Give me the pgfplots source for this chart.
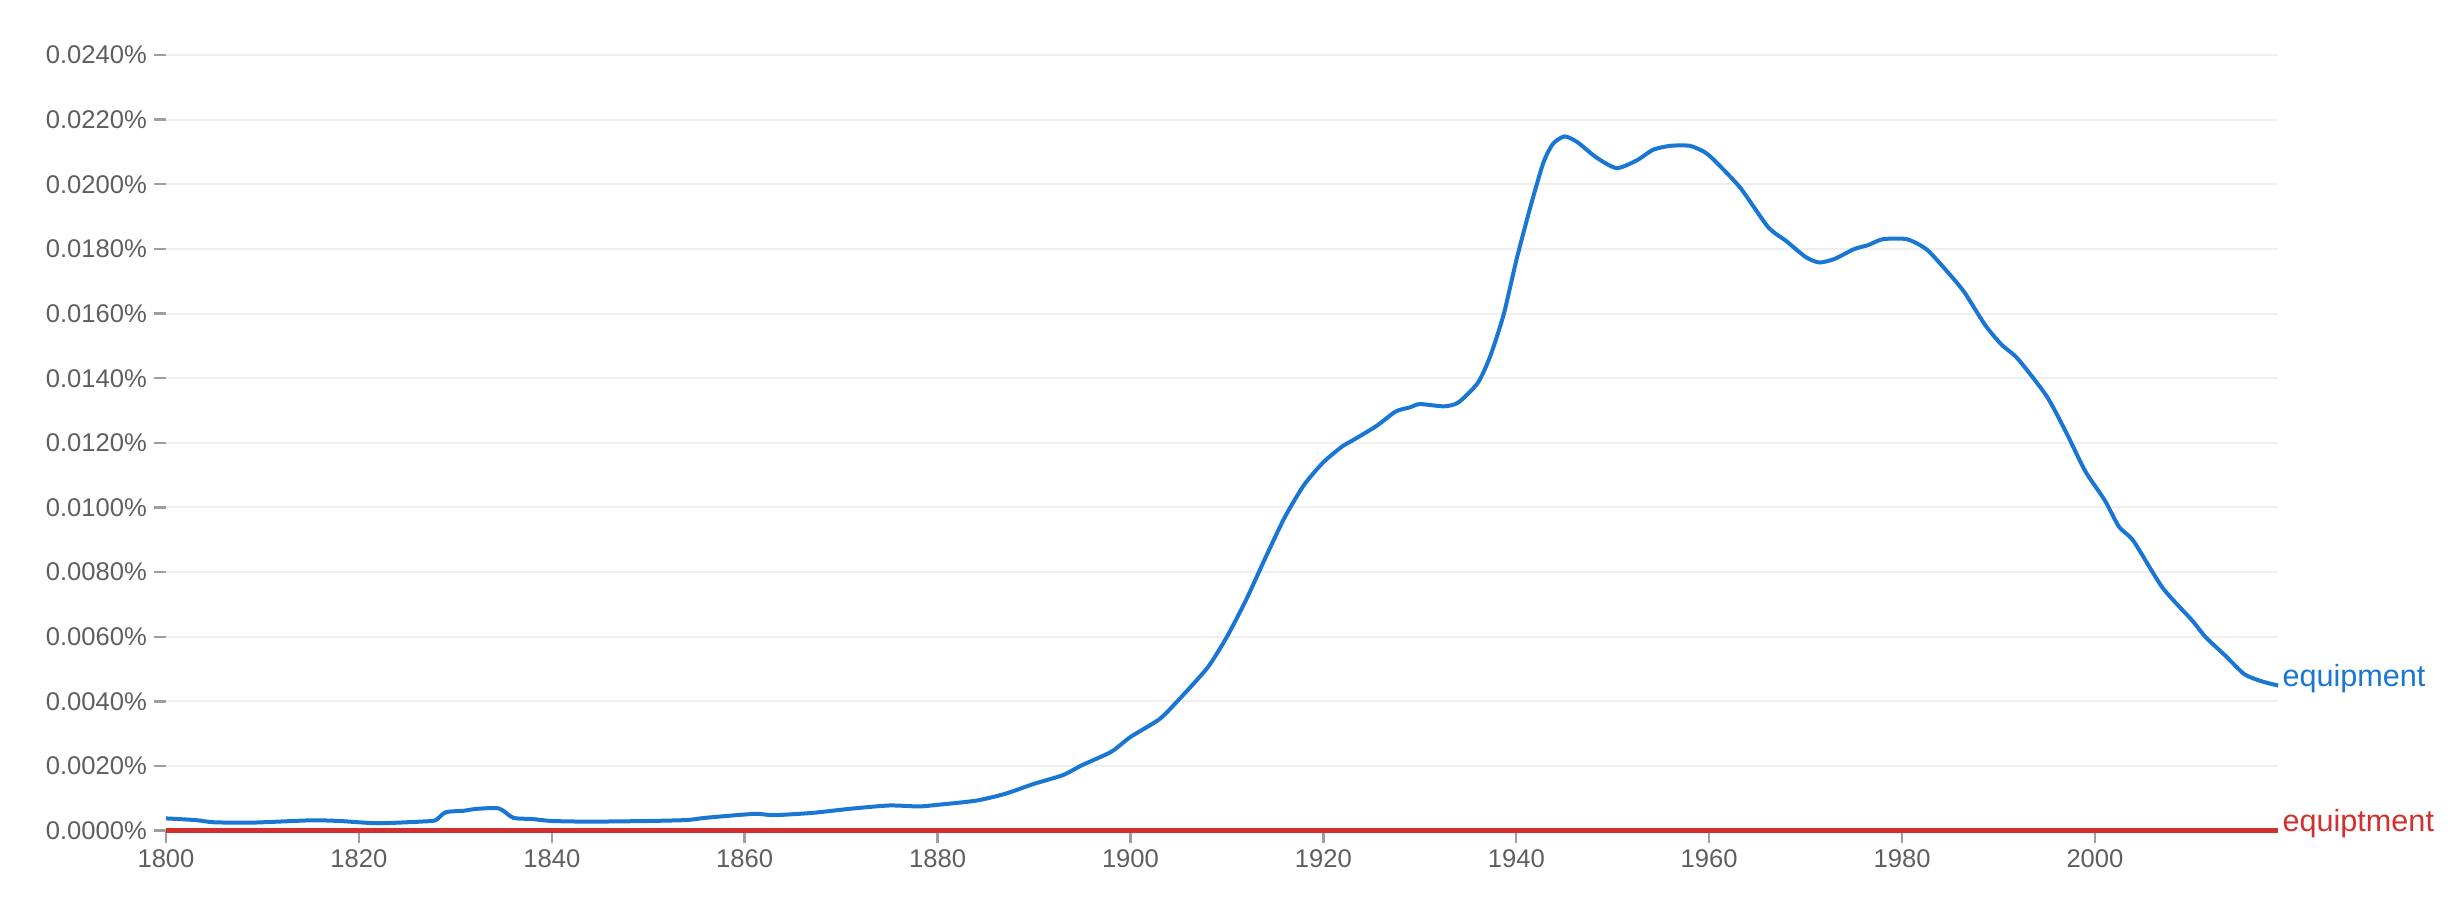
\documentclass[border=0pt]{standalone}
\usepackage{fontspec}
\setmainfont{Liberation Sans}
\usepackage{pgfplots}
\pgfplotsset{compat=1.18}
\definecolor{ngblue}{HTML}{1976D2}
\definecolor{ngred}{HTML}{D32F2F}
\definecolor{ticklab}{HTML}{5F5F5F}
\definecolor{tickc}{HTML}{9E9E9E}
\definecolor{gridc}{HTML}{EFEFEF}
\begin{document}
\begin{tikzpicture}
\begin{axis}[
  scale only axis, width=1056.1pt, height=387.85pt,
  xmin=1800, xmax=2019, ymin=0, ymax=0.024,
  axis line style={draw=none},
  scaled y ticks=false, scaled x ticks=false,
  xtick={1800,1820,1840,1860,1880,1900,1920,1940,1960,1980,2000},
  ytick={0,0.002,0.004,0.006,0.008,0.010,0.012,0.014,0.016,0.018,0.020,0.022,0.024},
  yticklabels={0.0000\%,0.0020\%,0.0040\%,0.0060\%,0.0080\%,0.0100\%,0.0120\%,0.0140\%,0.0160\%,0.0180\%,0.0200\%,0.0220\%,0.0240\%},
  /pgf/number format/1000 sep={},
  /pgf/number format/assume math mode=true,
  tick align=outside, major tick length=6pt,
  xtick pos=bottom, ytick pos=left,
  tick style={tickc, line width=1.2pt},
  ymajorgrids, grid style={gridc, line width=1pt},
  ticklabel style={font=\fontsize{12.8}{15}\selectfont, text=ticklab},
  clip=false,
]
\addplot[ngblue, line width=2pt, smooth, tension=0.4] coordinates {
(1800,0.00038) (1803,0.00033) (1805,0.00026) (1809,0.00025) (1815,0.00032)
(1818,0.00030) (1822,0.00023) (1827,0.00029) (1828,0.00033) (1829,0.00057)
(1831,0.00062) (1832,0.00067) (1834.5,0.00069) (1836,0.00040) (1838,0.00036)
(1840,0.00030) (1844,0.00028) (1850,0.00030) (1854,0.00033) (1856,0.00040)
(1861,0.00052) (1863,0.00048) (1867,0.00055) (1871,0.00068) (1875,0.00078)
(1878,0.00075) (1880,0.00080) (1884,0.00093) (1887,0.00114) (1890,0.00145)
(1893,0.00172) (1895,0.00203) (1898,0.00244) (1900,0.00290) (1903,0.00345)
(1905,0.00405) (1908,0.00505) (1910,0.00600) (1912,0.00715) (1914,0.00845)
(1916,0.00970) (1918,0.01070) (1920,0.01140) (1922,0.01190) (1923,0.01207)
(1925.5,0.01252) (1927.5,0.01297) (1929,0.01310) (1930,0.01320) (1932.5,0.01313)
(1934,0.01325) (1936,0.01385) (1937.3,0.01468) (1938.7,0.01598) (1940,0.01764)
(1941.4,0.01923) (1942.8,0.02066) (1943.8,0.02125) (1945,0.02148) (1946.3,0.02131)
(1948.3,0.02083) (1950.4,0.02050) (1952.5,0.02074) (1954.2,0.02107) (1956,0.02119)
(1958,0.02119) (1959.5,0.02100) (1960.5,0.02075) (1963.2,0.01990) (1966.1,0.01868)
(1968,0.01824) (1970,0.01775) (1971.4,0.01758) (1973,0.01769) (1975,0.01799)
(1976.5,0.01812) (1978,0.01830) (1980.5,0.01830) (1982.6,0.01797) (1985,0.01719)
(1986.5,0.01664) (1988.6,0.01565) (1990.3,0.01504) (1992,0.01460) (1995,0.01344)
(1997,0.01233) (1999,0.01112) (2001,0.01023) (2002.5,0.00940) (2004,0.00896)
(2007,0.00752) (2010,0.00653) (2011.5,0.00598) (2013.5,0.00542) (2015.5,0.00484)
(2017.3,0.00462) (2019,0.00449)
};
\addplot[ngred, line width=2.2pt] coordinates {
(1800,0) (1820,0) (1840,0) (1860,0) (1880,0) (1900,0) (1920,0) (1940,0) (1960,0) (1980,0) (2000,0) (2019,0)
};
\node[anchor=west, inner sep=0pt, xshift=2pt, yshift=3.5pt, text=ngblue, font=\fontsize{15.3}{18}\selectfont] at (axis cs:2019,0.00449) {equipment};
\node[anchor=west, inner sep=0pt, xshift=2pt, yshift=3.5pt, text=ngred, font=\fontsize{15.3}{18}\selectfont] at (axis cs:2019,0) {equiptment};
\end{axis}
\pgfresetboundingbox
\path[use as bounding box] ([xshift=-83pt,yshift=-35.65pt]current axis.south west) rectangle ([xshift=92.9pt,yshift=27.5pt]current axis.north east);
\end{tikzpicture}
\end{document}
